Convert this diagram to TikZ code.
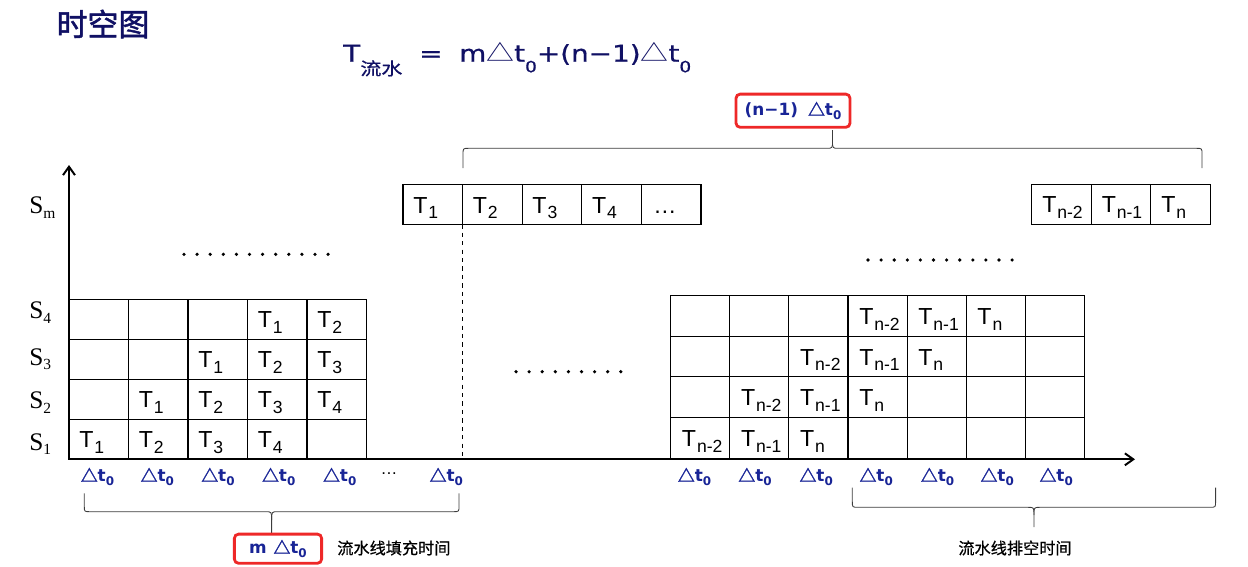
\documentclass[tikz,border=0pt]{standalone}
\usepackage{fontspec}
\setmainfont{Liberation Sans}
\newfontfamily\serifs{Liberation Serif}
\newfontfamily\dejav{DejaVu Sans}
\newfontfamily\dejavf[FakeBold=0.6]{DejaVu Sans}
\newfontfamily\cjk{Noto Sans CJK SC}
\newfontfamily\cjkm[FakeBold=0.6]{Noto Sans CJK SC}
\newfontfamily\cjkb[FakeBold=1.5]{Noto Sans CJK SC}
\usetikzlibrary{arrows.meta}
\definecolor{navy}{RGB}{16,16,100}
\definecolor{tblue}{RGB}{24,36,150}
\definecolor{boxred}{RGB}{238,40,40}
\definecolor{bracegray}{RGB}{60,60,60}
\newcommand{\Tn}[1]{T\kern0.6pt\raisebox{-4pt}{\fontsize{12.5}{13}\selectfont #1}}
\newcommand{\Sn}[1]{{\serifs S\raisebox{-3.5pt}{\fontsize{11}{11}\selectfont #1}}}
\newcommand{\tri}{{\cjkb △}}
\newcommand{\dt}{\tri t\raisebox{-2.5pt}{\fontsize{8.5}{8.5}\selectfont 0}}
\newcommand{\zsub}{\raisebox{-7.5pt}{\fontsize{11}{11}\selectfont 0}}
% x1, x2, y of the ends, y of the line, y of the tip
\newcommand{\hbrace}[5]{%
  \draw[bracket] (#1,#3) -- (#1,{#4+0.3*(#3-#4)}) .. controls (#1,#4) .. (#1+6,#4)
    -- ({(#1+#2)/2-6},#4) .. controls ({(#1+#2)/2},#4) .. ({(#1+#2)/2},{#4+0.4*(#5-#4)})
    -- ({(#1+#2)/2},#5);
  \draw[bracket] ({(#1+#2)/2},{#4+0.4*(#5-#4)}) .. controls ({(#1+#2)/2},#4) .. ({(#1+#2)/2+6},#4)
    -- (#2-6,#4) .. controls (#2,#4) .. (#2,{#4+0.3*(#3-#4)}) -- (#2,#3);}

\begin{document}
\begin{tikzpicture}[x=0.025cm,y=-0.025cm,
    cellbox/.style={draw,line width=0.75pt},
    tlab/.style={anchor=base west,inner sep=0pt,font=\fontsize{16.5}{18}\selectfont},
    slab/.style={anchor=base west,inner sep=0pt,font=\fontsize{18}{20}\selectfont},
    dlab/.style={inner sep=0pt,text=tblue,font=\dejav\bfseries\fontsize{12}{12}\selectfont},
    redbox/.style={draw=boxred,line width=2pt,rounded corners=3pt,inner sep=0pt},
    bracket/.style={draw=bracegray,line width=0.6pt},
    axis/.style={line width=1.4pt,-{Straight Barb[length=6pt,width=8.5pt]}}]
  \useasboundingbox (0,0) rectangle (1248,566);

  % title and formula
  \node[text=navy,font=\cjkb\fontsize{22}{24}\selectfont] (title) at (103,24) {时空图};
  \node[anchor=base west,inner sep=0pt,text=navy,font=\dejavf\fontsize{16.5}{18}\selectfont] (formula) at (343,61.7)
    {\scalebox{1.2}[1]{T\raisebox{-9.5pt}{\cjkm\fontsize{12.5}{12}\selectfont 流水}\hspace{0.6em}=\hspace{0.6em}m{\cjk △}t\zsub+(n−1){\cjk △}t\zsub}};

  % axes
  \coordinate (O) at (69,459.3);
  \coordinate (ytop) at (69,165);
  \coordinate (xend) at (1135,459.3);

  % stage labels
  \node[slab] (sm) at (29,213.3) {\Sn{m}};
  \node[slab] (s4) at (29,318.3) {\Sn{4}};
  \node[slab] (s3) at (29,365) {\Sn{3}};
  \node[slab] (s2) at (29,408.3) {\Sn{2}};
  \node[slab] (s1) at (29,450) {\Sn{1}};

  % left grid
  \foreach \c in {0,...,4}
    \foreach \r in {0,...,3}
      \draw[cellbox] (69+59.5*\c,299.3+40*\r) rectangle ++(59.5,40);
  \foreach \c/\r/\k in {0/0/1,1/0/2,2/0/3,3/0/4,
                        1/1/1,2/1/2,3/1/3,4/1/4,
                        2/2/1,3/2/2,4/2/3,
                        3/3/1,4/3/2}
    \node[tlab] (l\c\r) at (79+59.5*\c,447.7-40*\r) {\Tn{\k}};

  % top row, left
  \foreach \c in {0,...,4}
    \draw[cellbox] (403+59.6*\c,184.3) rectangle ++(59.6,40);
  \foreach \c/\k in {0/1,1/2,2/3,3/4}
    \node[tlab] (u\c) at (413+59.6*\c,213.3) {\Tn{\k}};
  \node[tlab] (u4) at (653,213.3) {…};

  % top row, right
  \foreach \c in {0,1,2}
    \draw[cellbox] (1031.7+59.5*\c,184.3) rectangle ++(59.5,40);
  \foreach \c/\k in {0/n-2,1/n-1,2/n}
    \node[tlab] (v\c) at (1042+59.5*\c,212.5) {\Tn{\k}};

  % right grid
  \foreach \c in {0,...,6}
    \foreach \r in {0,...,3}
      \draw[cellbox] (670.7+59.1*\c,295.3+40.75*\r) rectangle ++(59.1,40.75);
  \foreach \c/\r/\k in {0/0/n-2,1/0/n-1,2/0/n,
                        1/1/n-2,2/1/n-1,3/1/n,
                        2/2/n-2,3/2/n-1,4/2/n,
                        3/3/n-2,4/3/n-1,5/3/n}
    \node[tlab] (r\c\r) at (681.7+59.1*\c,446.7-40.75*\r) {\Tn{\k}};

  \draw[axis] (O) -- (ytop);
  \draw[axis] (O) -- (xend);

  % dashed marker
  \coordinate (dtop) at (462.7,224.3);
  \coordinate (dbot) at (462.7,459.3);
  \draw[dashed,line width=0.6pt] (dtop) -- (dbot);

  % dots
  \foreach \i in {0,...,11}
    \fill (184+13.1*\i,254.3) circle (1.8);
  \foreach \i in {0,...,8}
    \fill (516+13.1*\i,371.7) circle (1.8);
  \foreach \i in {0,...,11}
    \fill (868+13.1*\i,260) circle (1.8);

  % time steps
  \foreach \x [count=\i] in {97.5,157.3,218,278.7,339.7,446.3}
    \node[dlab] (a\i) at (\x,476.7) {\dt};
  \node[inner sep=0pt,font=\fontsize{12}{12}\selectfont] (adots) at (389,474) {…};
  \foreach \x [count=\i] in {694.5,755,816.2,876.2,937.5,997.2,1056.2}
    \node[dlab] (b\i) at (\x,476.7) {\dt};

  % braces
  \hbrace{463}{1202}{168}{148.3}{130}
  \node[redbox,dlab,minimum width=2.85cm,minimum height=0.83cm] (drain) at (793,110.7)
    {(n−1)\hspace{0.6em}\dt};

  \hbrace{84.3}{459}{493.3}{511.7}{533}
  \node[redbox,dlab,minimum width=2.18cm,minimum height=0.73cm] (fill) at (278,548.7)
    {m\hspace{0.4em}\dt};
  \node[anchor=west,inner sep=0pt,font=\cjkm\fontsize{11.5}{12}\selectfont] (filltxt) at (337,548) {流水线填充时间};

  \hbrace{852.3}{1215.6}{487.7}{507.3}{527}
  \node[inner sep=0pt,font=\cjkm\fontsize{11.5}{12}\selectfont] (draintxt) at (1015,548) {流水线排空时间};
\end{tikzpicture}
\end{document}
